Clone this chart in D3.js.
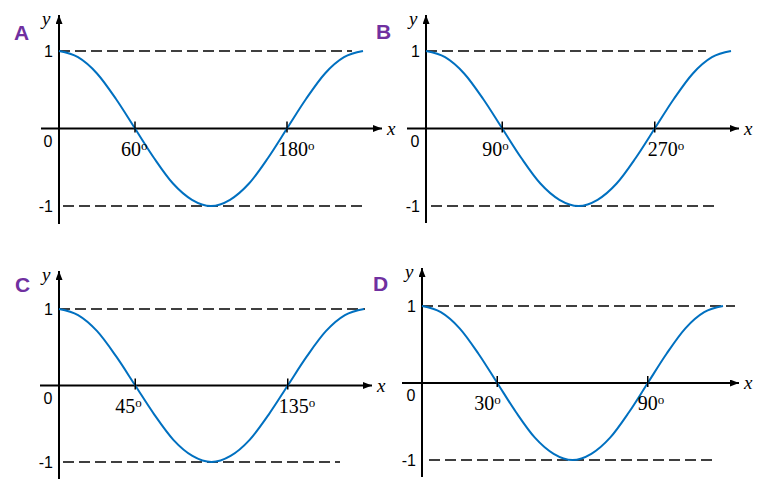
<!DOCTYPE html>
<html>
<head>
<meta charset="utf-8">
<script src="https://cdn.jsdelivr.net/npm/d3@7"></script>
<style>
  body { margin: 0; background: #fff; }
  svg { display: block; }
</style>
</head>
<body>
<svg id="chart"></svg>
<script>
// chart data
const panelLabels = ["A", "B", "C", "D"];
const periods = [240, 360, 180, 120];                       // degrees in one full cycle
const crossings = [[60, 180], [90, 270], [45, 135], [30, 90]];
const yTicks = [1, -1];
// one cycle of the curve (phase in degrees of a 360 cycle)
const cyclePhase = [0, 22.5, 45, 67.5, 90, 112.5, 135, 157.5, 180, 202.5, 225, 247.5, 270, 292.5, 315, 337.5, 360];
const cycleValues = [1, 0.92, 0.71, 0.38, 0, -0.38, -0.71, -0.92, -1, -0.92, -0.71, -0.38, 0, 0.38, 0.71, 0.92, 1];

// where each panel sits on the page
const layout = [
  {x0: 59,  x1: 363, yTop: 51,  yBot: 206, axisL: 41,  axisR: 382, yAxisTop: 15,  yAxisBot: 224, topDash: 352, botDash: [63, 363],  letter: [14, 40],  lblDx: [-14, -9]},
  {x0: 426, x1: 731, yTop: 51,  yBot: 206, axisL: 407, axisR: 739, yAxisTop: 15,  yAxisBot: 223, topDash: 706, botDash: [431, 714], letter: [376, 39], lblDx: [-20, -7]},
  {x0: 59,  x1: 364, yTop: 309, yBot: 462, axisL: 40,  axisR: 372, yAxisTop: 271, yAxisBot: 479, topDash: 365, botDash: [63, 340],  letter: [15, 292], lblDx: [-20, -9]},
  {x0: 422, x1: 723, yTop: 306, yBot: 460, axisL: 402, axisR: 739, yAxisTop: 268, yAxisBot: 477, topDash: 735, botDash: [429, 714], letter: [373, 291], lblDx: [-23, -10]}
];

const width = 768, height = 484;
const sans = "'Liberation Sans', Arial, sans-serif";
const serif = "'Liberation Serif', 'Times New Roman', serif";

const svg = d3.select("#chart")
    .attr("width", width)
    .attr("height", height);

// arrow head for the axes
svg.append("defs").append("marker")
    .attr("id", "arrow")
    .attr("markerUnits", "userSpaceOnUse")
    .attr("markerWidth", 9)
    .attr("markerHeight", 7)
    .attr("refX", 9)
    .attr("refY", 3.5)
    .attr("orient", "auto")
  .append("path")
    .attr("d", "M0,0 L9,3.5 L0,7 Z")
    .attr("fill", "#000");

const points = cyclePhase.map((p, i) => ({phase: p, value: cycleValues[i]}));

panelLabels.forEach((label, i) => {
  const L = layout[i];
  const period = periods[i];

  const x = d3.scaleLinear().domain([0, period]).range([L.x0, L.x1]);
  const y = d3.scaleLinear().domain([-1, 1]).range([L.yBot, L.yTop]);
  const axisY = y(0);

  const g = svg.append("g").attr("class", "panel");

  // dashed guide lines at y = 1 and y = -1
  g.append("line")
      .attr("x1", L.x0).attr("x2", L.topDash)
      .attr("y1", y(1)).attr("y2", y(1))
      .attr("stroke", "#000").attr("stroke-width", 1.6)
      .attr("stroke-dasharray", "11,5");
  g.append("line")
      .attr("x1", L.botDash[0]).attr("x2", L.botDash[1])
      .attr("y1", y(-1)).attr("y2", y(-1))
      .attr("stroke", "#000").attr("stroke-width", 1.6)
      .attr("stroke-dasharray", "11,5");

  // axes with arrows
  g.append("line")
      .attr("x1", L.axisL).attr("x2", L.axisR)
      .attr("y1", axisY).attr("y2", axisY)
      .attr("stroke", "#000").attr("stroke-width", 2)
      .attr("marker-end", "url(#arrow)");
  g.append("line")
      .attr("x1", L.x0).attr("x2", L.x0)
      .attr("y1", L.yAxisBot).attr("y2", L.yAxisTop)
      .attr("stroke", "#000").attr("stroke-width", 2)
      .attr("marker-end", "url(#arrow)");

  // the curve
  const line = d3.line()
      .x(d => x(d.phase * period / 360))
      .y(d => y(d.value))
      .curve(d3.curveMonotoneX);

  g.append("path")
      .datum(points)
      .attr("d", line)
      .attr("fill", "none")
      .attr("stroke", "#0070C0")
      .attr("stroke-width", 2);

  // ticks where the curve crosses zero
  g.selectAll(".cross-tick")
    .data(crossings[i])
    .join("line")
      .attr("class", "cross-tick")
      .attr("x1", d => x(d)).attr("x2", d => x(d))
      .attr("y1", axisY - 7).attr("y2", axisY + 4)
      .attr("stroke", "#000").attr("stroke-width", 1.5);

  const lbl = g.selectAll(".cross-label")
    .data(crossings[i])
    .join("text")
      .attr("class", "cross-label")
      .attr("x", (d, j) => x(d) + L.lblDx[j])
      .attr("y", axisY + 27)
      .attr("font-family", serif)
      .attr("font-size", 20)
      .attr("fill", "#000");
  lbl.append("tspan").text(d => d);
  lbl.append("tspan")
      .attr("dy", -6)
      .attr("font-size", 13)
      .text("o");

  // y tick labels and origin
  g.selectAll(".y-label")
    .data(yTicks)
    .join("text")
      .attr("class", "y-label")
      .attr("x", L.x0 - 6)
      .attr("y", d => y(d) + 6)
      .attr("text-anchor", "end")
      .attr("font-family", sans)
      .attr("font-size", 16)
      .attr("fill", "#000")
      .text(d => d);

  g.append("text")
      .attr("x", L.x0 - 11)
      .attr("y", axisY + 18)
      .attr("text-anchor", "middle")
      .attr("font-family", sans)
      .attr("font-size", 16)
      .text("0");

  // axis names
  g.append("text")
      .attr("x", L.axisR + 5)
      .attr("y", axisY + 6)
      .attr("font-family", serif)
      .attr("font-style", "italic")
      .attr("font-size", 19)
      .text("x");
  g.append("text")
      .attr("x", L.x0 - 17)
      .attr("y", L.yAxisTop + 10)
      .attr("font-family", serif)
      .attr("font-style", "italic")
      .attr("font-size", 19)
      .text("y");

  // panel letter
  g.append("text")
      .attr("x", L.letter[0])
      .attr("y", L.letter[1])
      .attr("font-family", sans)
      .attr("font-weight", "bold")
      .attr("font-size", 21)
      .attr("fill", "#7030A0")
      .text(label);
});
</script>
</body>
</html>
